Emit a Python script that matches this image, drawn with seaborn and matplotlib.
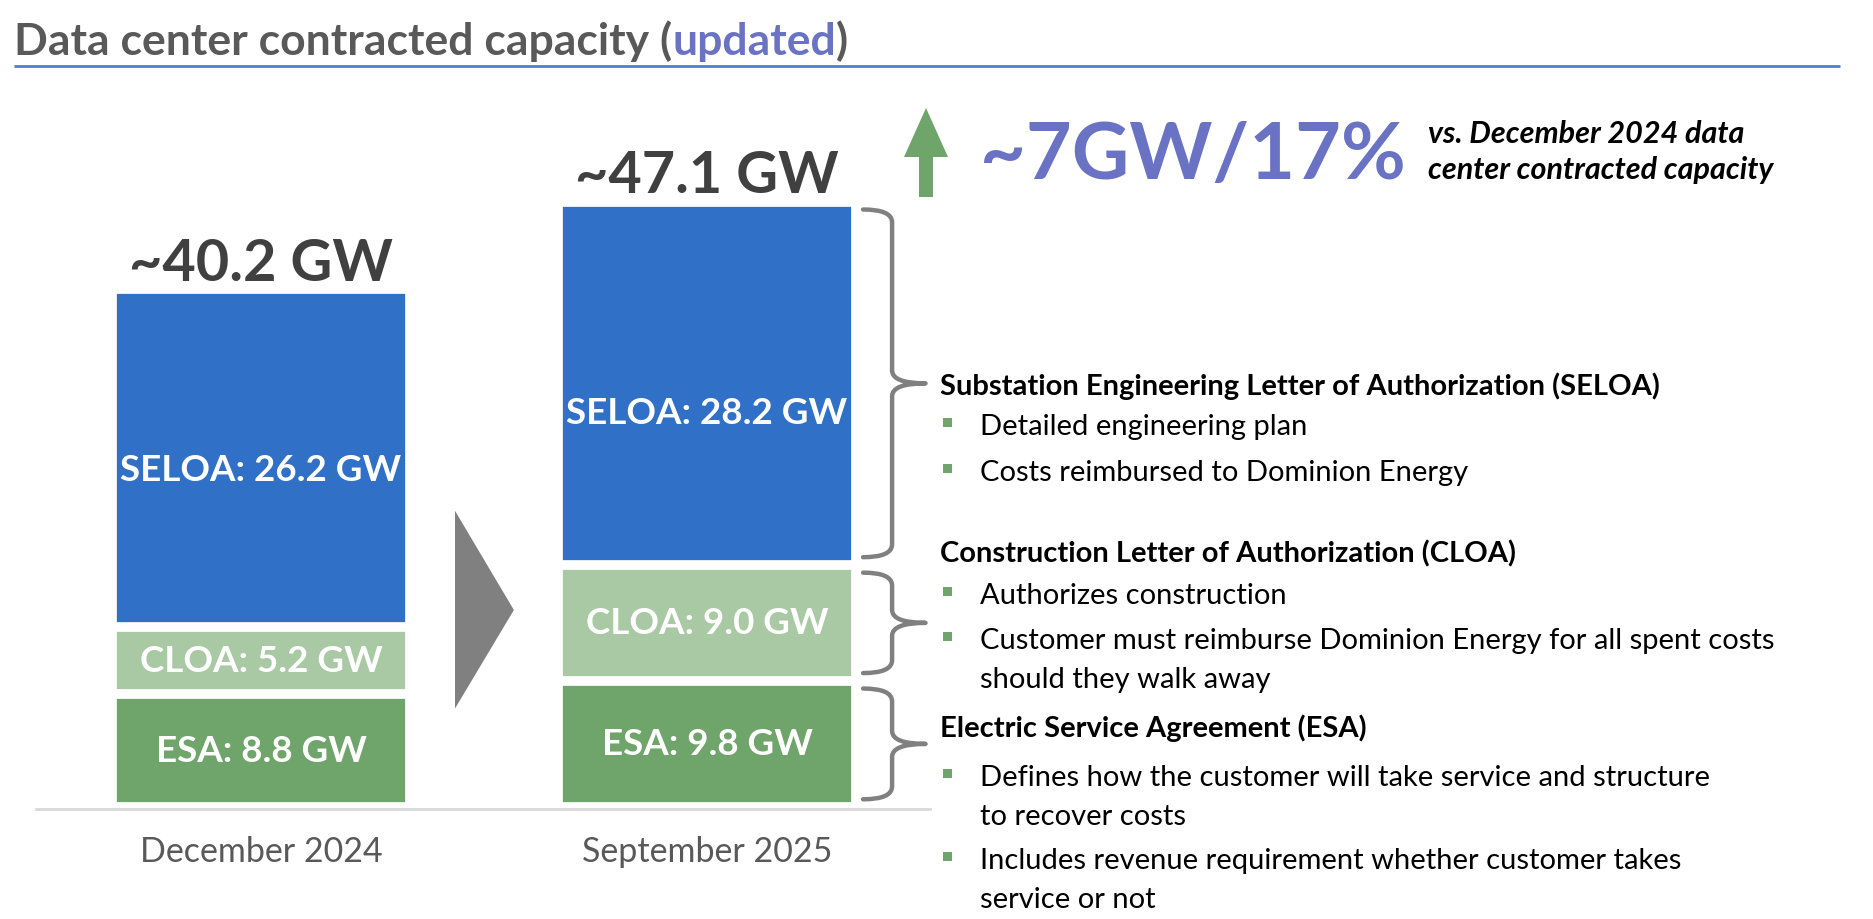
import matplotlib
matplotlib.use("Agg")
import matplotlib.pyplot as plt
import seaborn as sns
import pandas as pd
from matplotlib.path import Path
from matplotlib.patches import PathPatch, Polygon

# data
periods = ["December 2024", "September 2025"]
esa = [8.8, 9.8]
cloa = [5.2, 9.0]
seloa = [26.2, 28.2]
totals = [40.2, 47.1]
change_label = "~7GW/17%"
change_note = ["vs. December 2024 data", "center contracted capacity"]

headings = [
    "Substation Engineering Letter of Authorization (SELOA)",
    "Construction Letter of Authorization (CLOA)",
    "Electric Service Agreement (ESA)",
]
bullets = [
    [["Detailed engineering plan"], ["Costs reimbursed to Dominion Energy"]],
    [["Authorizes construction"],
     ["Customer must reimburse Dominion Energy for all spent costs", "should they walk away"]],
    [["Defines how the customer will take service and structure", "to recover costs"],
     ["Includes revenue requirement whether customer takes", "service or not"]],
]

c_seloa = "#3070c6"
c_cloa = "#a9c8a4"
c_esa = "#6fa46b"
c_purple = "#6a72c4"
c_gray = "#595959"

df = pd.DataFrame({"period": periods, "ESA": esa, "CLOA": cloa, "SELOA": seloa})
df["ESA+CLOA"] = df["ESA"] + df["CLOA"]
df["stack"] = df["ESA+CLOA"] + df["SELOA"]

sns.set_theme(style="white")
plt.rcParams["font.family"] = ["Lato", "DejaVu Sans"]

W, H = 1874, 920
fig = plt.figure(figsize=(W / 100, H / 100), dpi=100)

# overlay in pixel units for the slide decorations
ov = fig.add_axes([0, 0, 1, 1])
ov.set_xlim(0, W)
ov.set_ylim(H, 0)
ov.axis("off")

ax = fig.add_axes([36 / W, 1 - 810 / H, 894 / W, 710 / H])
ax.patch.set_alpha(0)

# stacked bars drawn as cumulative totals, largest first
for col, color in [("stack", c_seloa), ("ESA+CLOA", c_cloa), ("ESA", c_esa)]:
    sns.barplot(data=df, x="period", y=col, color=color, width=0.67,
                saturation=1, edgecolor="white", linewidth=7,
                errorbar=None, ax=ax)

px_per_gw = 12.95
ax.set_ylim(-2 / px_per_gw, (812 - 100) / px_per_gw)
ax.set_xlim(-0.5045, 1.5)
ax.set_xlabel("")
ax.set_ylabel("")
ax.set_yticks([])
for s in ["top", "left", "right"]:
    ax.spines[s].set_visible(False)
ax.spines["bottom"].set_color("#d9d9d9")
ax.spines["bottom"].set_linewidth(2)
ax.tick_params(axis="x", length=0, pad=19, labelsize=24.5, labelcolor=c_gray)

# segment labels (SELOA label sits a bit low in the original)
seloa_shift = [-0.9, -2.3]
for i in range(len(periods)):
    bottom = 0
    for name, vals in [("ESA", esa), ("CLOA", cloa), ("SELOA", seloa)]:
        v = vals[i]
        y = bottom + v / 2 + (seloa_shift[i] if name == "SELOA" else 0)
        ax.text(i, y, f"{name}: {v:.1f} GW", ha="center", va="center",
                color="white", fontsize=26.5, fontweight="bold")
        bottom += v
    ax.text(i, df["stack"][i] + 0.75, f"~{totals[i]:.1f} GW", ha="center", va="baseline",
            color="#404040", fontsize=41.5, fontweight="bold")

# gray chevron between the bars
ax.add_patch(Polygon([(0.435, 23.0), (0.567, 15.3), (0.435, 7.65)], closed=True,
                     facecolor="#808080", edgecolor="none"))

# curly braces next to the second bar
def brace(lo, hi, x_arm=1.35, x_sp=1.415, x_tip=1.49, r=1.0):
    mid = (lo + hi) / 2
    verts = [(x_arm, hi), (x_sp, hi), (x_sp, hi - r), (x_sp, mid + r),
             (x_sp, mid), (x_tip, mid), (x_sp, mid), (x_sp, mid - r),
             (x_sp, lo + r), (x_sp, lo), (x_arm, lo)]
    codes = [Path.MOVETO, Path.CURVE3, Path.CURVE3, Path.LINETO,
             Path.CURVE3, Path.CURVE3, Path.CURVE3, Path.CURVE3,
             Path.LINETO, Path.CURVE3, Path.CURVE3]
    ax.add_patch(PathPatch(Path(verts, codes), facecolor="none", edgecolor="#808080",
                           lw=3.2, clip_on=False, capstyle="round", joinstyle="round"))

bounds = [0, esa[1], esa[1] + cloa[1], esa[1] + cloa[1] + seloa[1]]
for k in range(3):
    brace(bounds[k] + 0.6, bounds[k + 1] - 0.6)

# title
t1 = ov.text(14, 55, "Data center contracted capacity (", fontsize=32, fontweight="bold",
             color=c_gray, va="baseline", ha="left")
t2 = ov.annotate("updated", xy=(1, 0), xycoords=t1, va="bottom", ha="left",
                 fontsize=32, fontweight="bold", color=c_purple)
ov.annotate(")", xy=(1, 0), xycoords=t2, va="bottom", ha="left",
            fontsize=32, fontweight="bold", color=c_gray)
ov.plot([14, 1840], [67, 67], color="#4a7fd4", lw=2, solid_capstyle="butt")

# change callout
ov.add_patch(Polygon([(919, 198), (919, 158), (904, 158), (926, 109), (948, 158),
                      (933, 158), (933, 198)], closed=True, facecolor=c_esa, edgecolor="none"))
ov.text(980, 179, change_label, fontsize=57, fontweight="bold", color=c_purple,
        va="baseline", ha="left")
for j, line in enumerate(change_note):
    ov.text(1428, 143 + 36 * j, line, fontsize=22, fontweight="bold", style="italic",
            color="black", va="baseline", ha="left")

# definitions on the right
head_y = [395, 562, 737]
bullet_y = [[[435], [481]], [[604], [649, 688]], [[786, 825], [869, 908]]]
for k in range(3):
    ov.text(940, head_y[k], headings[k], fontsize=21, fontweight="bold", color="black",
            va="baseline", ha="left")
    for b, lines in enumerate(bullets[k]):
        ys = bullet_y[k][b]
        ov.add_patch(plt.Rectangle((943, ys[0] - 16), 9, 9, facecolor=c_esa, edgecolor="none"))
        for line, y in zip(lines, ys):
            ov.text(980, y, line, fontsize=21, color="black", va="baseline", ha="left")

fig.savefig("out.png", dpi=100)
